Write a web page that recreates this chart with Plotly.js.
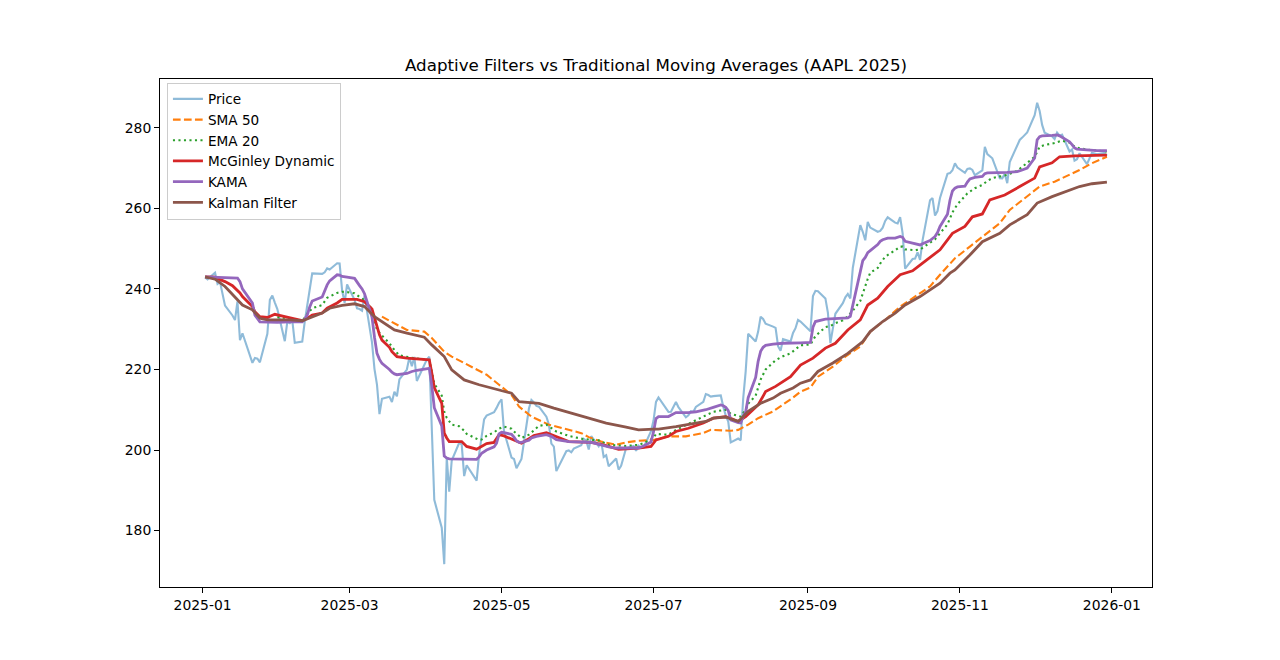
<!DOCTYPE html>
<html>
<head>
<meta charset="utf-8">
<script src="https://cdn.plot.ly/plotly-3.0.1.min.js"></script>
<style>
  html, body { margin: 0; padding: 0; background: #ffffff; }
  #chart { width: 1280px; height: 660px; }
</style>
</head>
<body>
<div id="chart"></div>
<script>
// AAPL daily closes, 2025
const priceDates = [
  '2025-01-02','2025-01-03','2025-01-06','2025-01-07','2025-01-08','2025-01-10','2025-01-13','2025-01-14','2025-01-15','2025-01-16',
  '2025-01-17','2025-01-21','2025-01-22','2025-01-23','2025-01-24','2025-01-27','2025-01-28','2025-01-29','2025-01-30','2025-01-31',
  '2025-02-03','2025-02-04','2025-02-05','2025-02-06','2025-02-07','2025-02-10','2025-02-11','2025-02-12','2025-02-13','2025-02-14',
  '2025-02-18','2025-02-19','2025-02-20','2025-02-21','2025-02-24','2025-02-25','2025-02-26','2025-02-27','2025-02-28',
  '2025-03-03','2025-03-04','2025-03-05','2025-03-06','2025-03-07','2025-03-10','2025-03-11','2025-03-12','2025-03-13','2025-03-14',
  '2025-03-17','2025-03-18','2025-03-19','2025-03-20','2025-03-21','2025-03-24','2025-03-25','2025-03-26','2025-03-27','2025-03-28','2025-03-31',
  '2025-04-01','2025-04-02','2025-04-03','2025-04-04','2025-04-07','2025-04-08','2025-04-09','2025-04-10','2025-04-11','2025-04-14',
  '2025-04-15','2025-04-16','2025-04-17','2025-04-21','2025-04-22','2025-04-23','2025-04-24','2025-04-25','2025-04-28','2025-04-29','2025-04-30',
  '2025-05-01','2025-05-02','2025-05-05','2025-05-06','2025-05-07','2025-05-08','2025-05-09','2025-05-12','2025-05-13','2025-05-14',
  '2025-05-15','2025-05-16','2025-05-19','2025-05-20','2025-05-21','2025-05-22','2025-05-23','2025-05-27','2025-05-28','2025-05-29','2025-05-30',
  '2025-06-02','2025-06-03','2025-06-04','2025-06-05','2025-06-06','2025-06-09','2025-06-10','2025-06-11','2025-06-12','2025-06-13',
  '2025-06-16','2025-06-17','2025-06-18','2025-06-20','2025-06-23','2025-06-24','2025-06-25','2025-06-26','2025-06-27','2025-06-30',
  '2025-07-01','2025-07-02','2025-07-03','2025-07-07','2025-07-08','2025-07-09','2025-07-10','2025-07-11','2025-07-14','2025-07-15',
  '2025-07-16','2025-07-17','2025-07-18','2025-07-21','2025-07-22','2025-07-23','2025-07-24','2025-07-25','2025-07-28','2025-07-29','2025-07-30','2025-07-31',
  '2025-08-01','2025-08-04','2025-08-05','2025-08-06','2025-08-07','2025-08-08','2025-08-11','2025-08-12','2025-08-13','2025-08-14',
  '2025-08-15','2025-08-18','2025-08-19','2025-08-20','2025-08-21','2025-08-22','2025-08-25','2025-08-26','2025-08-27','2025-08-28','2025-08-29',
  '2025-09-02','2025-09-03','2025-09-04','2025-09-05','2025-09-08','2025-09-09','2025-09-10','2025-09-11','2025-09-12','2025-09-15',
  '2025-09-16','2025-09-17','2025-09-18','2025-09-19','2025-09-22','2025-09-23','2025-09-24','2025-09-25','2025-09-26','2025-09-29','2025-09-30',
  '2025-10-01','2025-10-02','2025-10-03','2025-10-06','2025-10-07','2025-10-08','2025-10-09','2025-10-10','2025-10-13','2025-10-14',
  '2025-10-15','2025-10-16','2025-10-17','2025-10-20','2025-10-21','2025-10-22','2025-10-23','2025-10-24','2025-10-27','2025-10-28',
  '2025-10-29','2025-10-30','2025-10-31',
  '2025-11-03','2025-11-04','2025-11-05','2025-11-06','2025-11-07','2025-11-10','2025-11-11','2025-11-12','2025-11-13','2025-11-14',
  '2025-11-17','2025-11-18','2025-11-19','2025-11-20','2025-11-21','2025-11-24','2025-11-25','2025-11-26','2025-11-28',
  '2025-12-01','2025-12-02','2025-12-03','2025-12-04','2025-12-05','2025-12-08','2025-12-09','2025-12-10','2025-12-11','2025-12-12',
  '2025-12-15','2025-12-16','2025-12-17','2025-12-18','2025-12-19','2025-12-22','2025-12-23','2025-12-24','2025-12-26','2025-12-29','2025-12-30'
];
const priceValues = [
  242.85,242.36,244.00,241.21,241.70,235.85,233.40,232.28,236.87,227.26,
  228.98,221.64,222.83,222.66,221.78,228.86,237.26,238.36,236.59,235.00,
  227.01,231.80,231.47,232.22,226.63,226.90,231.87,236.12,240.78,243.85,
  243.72,244.12,245.08,244.80,246.35,246.29,239.61,236.55,241.09,
  237.28,235.18,234.99,234.58,238.32,226.73,220.09,216.23,208.93,212.74,
  213.25,211.94,214.49,213.35,217.52,219.98,223.00,220.78,223.10,217.15,221.38,
  222.44,223.14,202.44,187.63,180.71,171.67,198.10,189.67,197.40,201.77,
  201.39,193.52,196.23,192.41,198.99,203.85,207.62,208.53,209.39,210.46,211.75,
  212.57,204.60,198.14,197.76,195.50,196.74,197.78,210.29,212.43,211.83,
  210.95,210.76,208.28,206.36,201.59,200.86,194.77,199.71,199.92,199.45,200.35,
  201.20,202.77,202.32,200.13,203.42,200.95,202.17,198.28,198.70,195.95,
  197.92,195.14,196.08,200.50,201.00,199.80,201.06,200.50,200.58,204.67,
  207.32,211.94,213.05,209.45,209.51,210.64,211.91,210.66,208.12,208.61,
  209.66,209.52,210.68,211.98,213.90,213.65,213.26,213.38,213.55,210.77,208.55,207.07,
  201.88,202.85,202.42,212.75,219.53,228.85,226.93,229.40,233.08,232.53,
  231.34,230.64,230.31,225.76,224.65,227.51,226.91,229.06,230.24,232.31,231.89,
  229.47,238.22,239.53,239.44,237.63,234.10,226.54,229.78,233.82,236.45,
  237.90,238.74,237.63,245.25,255.83,254.18,252.06,256.62,255.21,254.18,254.38,
  255.20,256.88,257.77,256.44,256.23,257.81,253.79,245.02,247.41,247.52,
  249.09,247.20,252.04,261.99,262.52,258.20,259.33,262.57,268.56,268.75,
  269.45,271.15,270.12,
  268.80,269.79,269.89,269.52,268.22,269.43,275.25,273.47,272.95,272.41,
  267.46,267.44,268.56,266.25,271.49,275.92,276.97,277.55,278.85,
  283.10,286.19,284.15,280.70,278.78,277.89,277.18,278.78,278.03,278.28,
  274.11,274.61,271.84,272.19,273.67,270.97,272.36,273.81,273.40,273.76,273.08
];

// 50-day simple moving average
const smaDates = [
  '2025-03-14','2025-03-19','2025-03-24','2025-03-31','2025-04-03','2025-04-08','2025-04-11','2025-04-16','2025-04-21','2025-04-25','2025-04-30',
  '2025-05-05','2025-05-08','2025-05-13','2025-05-20','2025-05-27','2025-06-02','2025-06-05','2025-06-10','2025-06-16','2025-06-20','2025-06-25',
  '2025-07-01','2025-07-07','2025-07-14','2025-07-21','2025-07-24','2025-08-01','2025-08-04','2025-08-08','2025-08-12','2025-08-18','2025-08-22',
  '2025-08-26','2025-08-29','2025-09-02','2025-09-05','2025-09-11','2025-09-16','2025-09-22','2025-09-26','2025-10-02','2025-10-08','2025-10-14',
  '2025-10-20','2025-10-24','2025-10-30','2025-11-05','2025-11-10','2025-11-17','2025-11-21','2025-11-28','2025-12-03','2025-12-09','2025-12-15',
  '2025-12-19','2025-12-24','2025-12-30'
];
const smaValues = [
  233.1,231.5,229.8,229.4,227.8,224.4,223.2,221.6,219.9,218.7,216.2,
  213.7,210.8,208.3,206.3,205.2,204.2,203.2,202.1,201.3,201.9,202.3,
  202.5,203.4,203.4,204.2,205.0,204.8,205.0,206.3,207.9,209.6,211.2,
  213.0,214.5,215.5,218.2,220.7,223.2,225.7,229.4,232.3,235.6,238.1,
  240.6,243.5,247.6,250.5,253.0,256.3,259.6,262.9,265.4,266.6,268.3,
  269.5,271.2,272.8
];

// 20-day exponential moving average
const emaDates = [
  '2025-01-31','2025-02-05','2025-02-07','2025-02-10','2025-02-12','2025-02-14','2025-02-18','2025-02-20','2025-02-24','2025-02-26','2025-02-28',
  '2025-03-03','2025-03-05','2025-03-07','2025-03-10','2025-03-11','2025-03-12','2025-03-14','2025-03-17','2025-03-19','2025-03-21','2025-03-25',
  '2025-03-27','2025-03-31','2025-04-02','2025-04-03','2025-04-04','2025-04-07','2025-04-08','2025-04-09','2025-04-10','2025-04-11','2025-04-14',
  '2025-04-16','2025-04-17','2025-04-21','2025-04-22','2025-04-23','2025-04-25','2025-04-28','2025-04-30','2025-05-02','2025-05-05','2025-05-06',
  '2025-05-09','2025-05-12','2025-05-14','2025-05-16','2025-05-19','2025-05-21','2025-05-23','2025-05-28','2025-06-03','2025-06-09','2025-06-13',
  '2025-06-20','2025-06-25','2025-06-27','2025-07-01','2025-07-02','2025-07-07','2025-07-10','2025-07-15','2025-07-21','2025-07-25','2025-07-30',
  '2025-08-01','2025-08-05','2025-08-07','2025-08-08','2025-08-11','2025-08-13','2025-08-15','2025-08-19','2025-08-22','2025-08-25','2025-08-29',
  '2025-09-02','2025-09-04','2025-09-08','2025-09-10','2025-09-12','2025-09-15','2025-09-17','2025-09-18','2025-09-19','2025-09-22','2025-09-23',
  '2025-09-24','2025-09-25','2025-09-26','2025-09-29','2025-09-30','2025-10-02','2025-10-06','2025-10-08','2025-10-09','2025-10-10','2025-10-14',
  '2025-10-16','2025-10-17','2025-10-20','2025-10-22','2025-10-24','2025-10-27','2025-10-29','2025-10-31','2025-11-04','2025-11-07','2025-11-10',
  '2025-11-12','2025-11-14','2025-11-18','2025-11-20','2025-11-24','2025-11-26','2025-11-28','2025-12-01','2025-12-02','2025-12-03','2025-12-05',
  '2025-12-09','2025-12-12','2025-12-15','2025-12-17','2025-12-19','2025-12-23','2025-12-30'
];
const emaValues = [
  233.0,232.6,232.0,232.0,233.8,235.2,236.0,237.8,239.0,239.3,239.2,
  238.9,238.0,237.2,235.0,232.0,229.8,228.4,226.5,224.8,223.5,223.0,
  222.8,222.5,222.3,219.5,216.5,213.5,209.5,208.0,207.0,206.3,205.9,
  204.8,204.0,202.8,202.5,202.6,203.5,204.4,205.3,205.8,205.3,204.6,
  203.0,203.8,205.0,206.0,206.3,205.5,204.6,203.5,202.7,202.4,201.3,
  201.0,201.3,201.7,203.0,204.0,203.8,205.0,206.5,208.2,209.5,210.0,
  209.0,208.3,210.0,211.5,213.5,217.5,220.0,222.3,223.3,224.0,226.0,
  226.2,228.3,230.5,230.8,231.5,232.2,233.2,233.8,234.6,237.0,239.0,
  240.5,242.5,244.0,245.2,246.3,248.0,249.6,250.5,250.5,249.8,249.6,
  249.8,250.2,251.5,252.3,253.8,256.0,259.0,261.0,263.7,265.0,265.8,
  266.8,267.5,268.0,268.3,269.3,270.3,271.2,272.8,274.0,275.3,275.7,
  276.2,276.8,276.3,275.3,274.9,274.5,274.1
];

// McGinley Dynamic
const mcgDates = [
  '2025-01-02','2025-01-06','2025-01-08','2025-01-10','2025-01-13','2025-01-14','2025-01-16','2025-01-17','2025-01-21','2025-01-22','2025-01-24',
  '2025-01-27','2025-01-29','2025-01-30','2025-02-03','2025-02-06','2025-02-10','2025-02-12','2025-02-14','2025-02-18','2025-02-20','2025-02-24',
  '2025-02-26','2025-03-04','2025-03-06','2025-03-07','2025-03-10','2025-03-11','2025-03-12','2025-03-13','2025-03-14','2025-03-17','2025-03-18',
  '2025-03-20','2025-03-24','2025-04-01','2025-04-02','2025-04-03','2025-04-04','2025-04-07','2025-04-08','2025-04-09','2025-04-10','2025-04-15',
  '2025-04-17','2025-04-21','2025-04-23','2025-04-25','2025-04-28','2025-04-29','2025-04-30','2025-05-02','2025-05-06','2025-05-09','2025-05-12',
  '2025-05-14','2025-05-19','2025-05-22','2025-05-28','2025-06-06','2025-06-11','2025-06-17','2025-06-25','2025-06-30','2025-07-02','2025-07-07',
  '2025-07-10','2025-07-15','2025-07-21','2025-07-25','2025-07-30','2025-08-01','2025-08-04','2025-08-07','2025-08-12','2025-08-15','2025-08-19',
  '2025-08-25','2025-08-29','2025-09-03','2025-09-08','2025-09-12','2025-09-17','2025-09-22','2025-09-25','2025-09-29','2025-10-03','2025-10-08',
  '2025-10-13','2025-10-17','2025-10-24','2025-10-29','2025-11-03','2025-11-06','2025-11-10','2025-11-13','2025-11-19','2025-11-25','2025-12-01',
  '2025-12-03','2025-12-08','2025-12-11','2025-12-17','2025-12-30'
];
const mcgValues = [
  243.0,242.9,242.3,241.8,240.8,240.2,239.0,238.1,235.6,234.3,233.1,
  232.9,233.5,233.7,233.1,232.7,232.1,232.7,233.5,234.0,235.2,236.5,
  237.4,237.4,237.1,236.8,235.0,232.7,230.5,228.6,227.3,225.5,224.4,
  223.2,222.8,222.55,222.4,219.1,215.5,211.6,204.2,203.0,202.1,202.1,
  200.9,200.2,201.0,201.6,201.9,203.0,203.8,203.5,202.5,201.7,202.8,
  203.6,204.3,203.6,202.1,201.9,201.3,200.2,200.5,200.9,202.5,203.4,
  204.6,205.4,206.7,207.9,208.3,207.9,207.1,208.3,211.2,214.5,215.8,
  218.2,221.1,222.8,225.3,226.5,229.8,232.3,236.0,237.7,240.6,243.5,
  244.5,246.4,249.7,253.8,255.5,257.9,258.6,262.1,263.3,265.4,267.5,
  270.3,271.3,272.8,273.0,273.2
];

// Kaufman Adaptive Moving Average
const kamaDates = [
  '2025-01-02','2025-01-08','2025-01-15','2025-01-16','2025-01-17','2025-01-21','2025-01-22','2025-01-24','2025-01-31','2025-02-07','2025-02-10',
  '2025-02-11','2025-02-12','2025-02-13','2025-02-14','2025-02-18','2025-02-19','2025-02-20','2025-02-21','2025-02-24','2025-02-25','2025-02-26',
  '2025-02-28','2025-03-03','2025-03-05','2025-03-06','2025-03-07','2025-03-10','2025-03-11','2025-03-12','2025-03-13','2025-03-14','2025-03-17',
  '2025-03-18','2025-03-19','2025-03-20','2025-03-24','2025-03-26','2025-03-28','2025-03-31','2025-04-02','2025-04-03','2025-04-04','2025-04-07',
  '2025-04-08','2025-04-09','2025-04-10','2025-04-21','2025-04-22','2025-04-23','2025-04-25','2025-04-28','2025-04-29','2025-04-30','2025-05-01',
  '2025-05-02','2025-05-05','2025-05-06','2025-05-07','2025-05-08','2025-05-09','2025-05-12','2025-05-13','2025-05-15','2025-05-19','2025-05-21',
  '2025-05-23','2025-05-28','2025-06-02','2025-06-06','2025-06-10','2025-06-13','2025-06-16','2025-06-25','2025-06-27','2025-06-30','2025-07-01',
  '2025-07-02','2025-07-03','2025-07-07','2025-07-10','2025-07-15','2025-07-18','2025-07-22','2025-07-25','2025-07-28','2025-07-29','2025-07-30',
  '2025-07-31','2025-08-01','2025-08-04','2025-08-05','2025-08-06','2025-08-07','2025-08-08','2025-08-11','2025-08-12','2025-08-13','2025-08-14',
  '2025-08-15','2025-08-18','2025-08-22','2025-08-29','2025-09-02','2025-09-03','2025-09-04','2025-09-08','2025-09-16','2025-09-17','2025-09-18',
  '2025-09-19','2025-09-22','2025-09-23','2025-09-24','2025-09-25','2025-09-26','2025-09-29','2025-09-30','2025-10-01','2025-10-03','2025-10-06',
  '2025-10-08','2025-10-09','2025-10-10','2025-10-13','2025-10-15','2025-10-16','2025-10-17','2025-10-20','2025-10-21','2025-10-22','2025-10-23',
  '2025-10-24','2025-10-27','2025-10-28','2025-10-29','2025-10-30','2025-10-31','2025-11-03','2025-11-04','2025-11-05','2025-11-07','2025-11-10',
  '2025-11-11','2025-11-12','2025-11-20','2025-11-24','2025-11-26','2025-11-28','2025-12-01','2025-12-02','2025-12-03','2025-12-04','2025-12-08',
  '2025-12-10','2025-12-11','2025-12-12','2025-12-15','2025-12-16','2025-12-17','2025-12-18','2025-12-22','2025-12-26','2025-12-30'
];
const kamaValues = [
  243.0,242.9,242.7,241.8,240.0,236.5,233.5,231.8,231.7,231.9,231.8,
  232.5,233.5,235.5,237.0,238.0,239.5,241.0,242.0,243.5,243.4,243.1,
  242.9,242.6,240.8,240.0,238.8,233.0,228.0,224.0,222.5,221.5,220.0,
  219.3,218.9,218.7,219.0,219.5,219.8,220.0,220.3,216.0,210.5,206.0,
  198.5,198.0,197.8,197.7,198.3,199.2,200.0,200.8,201.7,204.0,204.4,
  204.3,203.9,203.2,202.3,201.9,201.9,202.4,203.0,203.4,203.8,203.4,
  202.6,202.1,202.0,201.9,201.3,200.8,200.5,200.5,201.0,202.0,204.5,
  207.8,208.3,208.3,209.3,209.3,209.5,210.0,210.6,211.2,211.0,210.6,
  209.8,207.5,206.8,206.7,208.3,209.5,213.0,218.0,222.0,224.5,225.5,
  226.0,226.3,226.5,226.6,226.7,230.5,231.9,232.5,232.7,232.8,233.2,
  236.0,244.0,247.0,247.8,249.0,249.5,251.0,251.8,252.2,252.6,252.6,
  253.0,252.8,251.8,251.3,250.9,250.9,251.2,252.0,252.5,253.0,254.0,
  255.5,258.5,262.0,264.3,265.0,265.3,265.5,266.5,267.3,267.7,267.9,
  268.6,268.8,268.9,269.1,269.5,270.0,272.5,277.0,277.8,278.0,278.1,
  278.2,278.0,277.6,276.5,275.8,275.0,274.7,274.5,274.3,274.3
];

// Kalman filter estimate
const kalmanDates = [
  '2025-01-02','2025-01-06','2025-01-10','2025-01-14','2025-01-17','2025-01-21','2025-01-24','2025-01-27','2025-01-31','2025-02-05','2025-02-10',
  '2025-02-14','2025-02-18','2025-02-21','2025-02-26','2025-03-03','2025-03-05','2025-03-07','2025-03-11','2025-03-14','2025-03-19','2025-03-24',
  '2025-03-31','2025-04-03','2025-04-08','2025-04-11','2025-04-16','2025-04-22','2025-04-28','2025-05-02','2025-05-05','2025-05-08','2025-05-16',
  '2025-05-22','2025-05-29','2025-06-06','2025-06-12','2025-06-20','2025-06-25','2025-07-01','2025-07-03','2025-07-10','2025-07-17','2025-07-22',
  '2025-07-25','2025-07-30','2025-08-01','2025-08-04','2025-08-06','2025-08-08','2025-08-13','2025-08-18','2025-08-21','2025-08-26','2025-08-29',
  '2025-09-02','2025-09-05','2025-09-11','2025-09-17','2025-09-23','2025-09-26','2025-10-01','2025-10-06','2025-10-10','2025-10-16','2025-10-22',
  '2025-10-24','2025-10-28','2025-10-30','2025-11-05','2025-11-10','2025-11-17','2025-11-21','2025-11-28','2025-12-02','2025-12-08','2025-12-15',
  '2025-12-19','2025-12-24','2025-12-30'
];
const kalmanValues = [
  243.0,242.4,240.6,238.1,236.0,234.8,232.7,232.3,232.3,232.3,232.1,
  233.1,234.0,235.2,235.9,236.3,236.0,235.6,233.1,231.9,229.8,229.0,
  228.0,226.1,223.2,219.9,217.4,216.2,215.2,214.5,214.1,212.0,211.6,
  210.4,209.2,207.9,206.7,205.7,205.0,205.2,205.2,205.8,206.5,207.1,
  207.9,208.2,207.7,207.1,208.3,209.6,211.6,212.9,214.1,215.4,216.6,
  217.4,219.5,221.6,224.0,226.9,229.4,231.9,234.0,236.0,238.1,240.6,
  241.4,243.9,244.7,248.4,251.7,253.8,255.9,258.4,261.3,262.9,264.6,
  265.4,266.1,266.5
];

const xTickVals = ['2025-01-01','2025-03-01','2025-05-01','2025-07-01','2025-09-01','2025-11-01','2026-01-01'];
const xTickText = ['2025-01','2025-03','2025-05','2025-07','2025-09','2025-11','2026-01'];
const yTickVals = [180, 200, 220, 240, 260, 280];

const FONT = 'DejaVu Sans, sans-serif';

const traces = [
  { x: priceDates, y: priceValues, name: 'Price', type: 'scatter', mode: 'lines',
    line: { color: 'rgba(31,119,180,0.5)', width: 2.1 } },
  { x: smaDates, y: smaValues, name: 'SMA 50', type: 'scatter', mode: 'lines',
    line: { color: '#ff7f0e', width: 2.1, dash: '7.7px,3.3px' } },
  { x: emaDates, y: emaValues, name: 'EMA 20', type: 'scatter', mode: 'lines',
    line: { color: '#2ca02c', width: 2.1, dash: '2.1px,3.4px' } },
  { x: mcgDates, y: mcgValues, name: 'McGinley Dynamic', type: 'scatter', mode: 'lines',
    line: { color: '#d62728', width: 2.8 } },
  { x: kamaDates, y: kamaValues, name: 'KAMA', type: 'scatter', mode: 'lines',
    line: { color: '#9467bd', width: 2.8 } },
  { x: kalmanDates, y: kalmanValues, name: 'Kalman Filter', type: 'scatter', mode: 'lines',
    line: { color: '#8c564b', width: 2.8 } }
];

const axisCommon = {
  showgrid: false, zeroline: false,
  showline: true, mirror: true, linecolor: '#000000', linewidth: 1,
  ticks: 'outside', ticklen: 5, tickwidth: 1, tickcolor: '#000000',
  tickfont: { family: FONT, size: 13.9, color: '#000000' }
};

const layout = {
  width: 1280, height: 660,
  margin: { l: 160, r: 128, t: 79, b: 73, pad: 0 },
  paper_bgcolor: '#ffffff', plot_bgcolor: '#ffffff',
  font: { family: FONT, color: '#000000' },
  title: {
    text: 'Adaptive Filters vs Traditional Moving Averages (AAPL 2025)',
    font: { family: FONT, size: 16.7, color: '#000000' },
    xref: 'paper', x: 0.5, xanchor: 'center',
    yref: 'container', y: 0.902, yanchor: 'middle'
  },
  xaxis: Object.assign({}, axisCommon, {
    type: 'date',
    range: ['2024-12-14 21:36', '2026-01-17 02:24'],
    tickmode: 'array', tickvals: xTickVals, ticktext: xTickText
  }),
  yaxis: Object.assign({}, axisCommon, {
    range: [166.0, 292.1],
    tickmode: 'array', tickvals: yTickVals
  }),
  showlegend: true,
  legend: {
    x: 0.007, y: 0.993, xanchor: 'left', yanchor: 'top',
    bgcolor: 'rgba(255,255,255,0.8)', bordercolor: '#cccccc', borderwidth: 1,
    font: { family: FONT, size: 13.6, color: '#000000' },
    tracegroupgap: 0
  },
  hovermode: false
};

Plotly.newPlot('chart', traces, layout, { staticPlot: true, displayModeBar: false });
</script>
</body>
</html>
